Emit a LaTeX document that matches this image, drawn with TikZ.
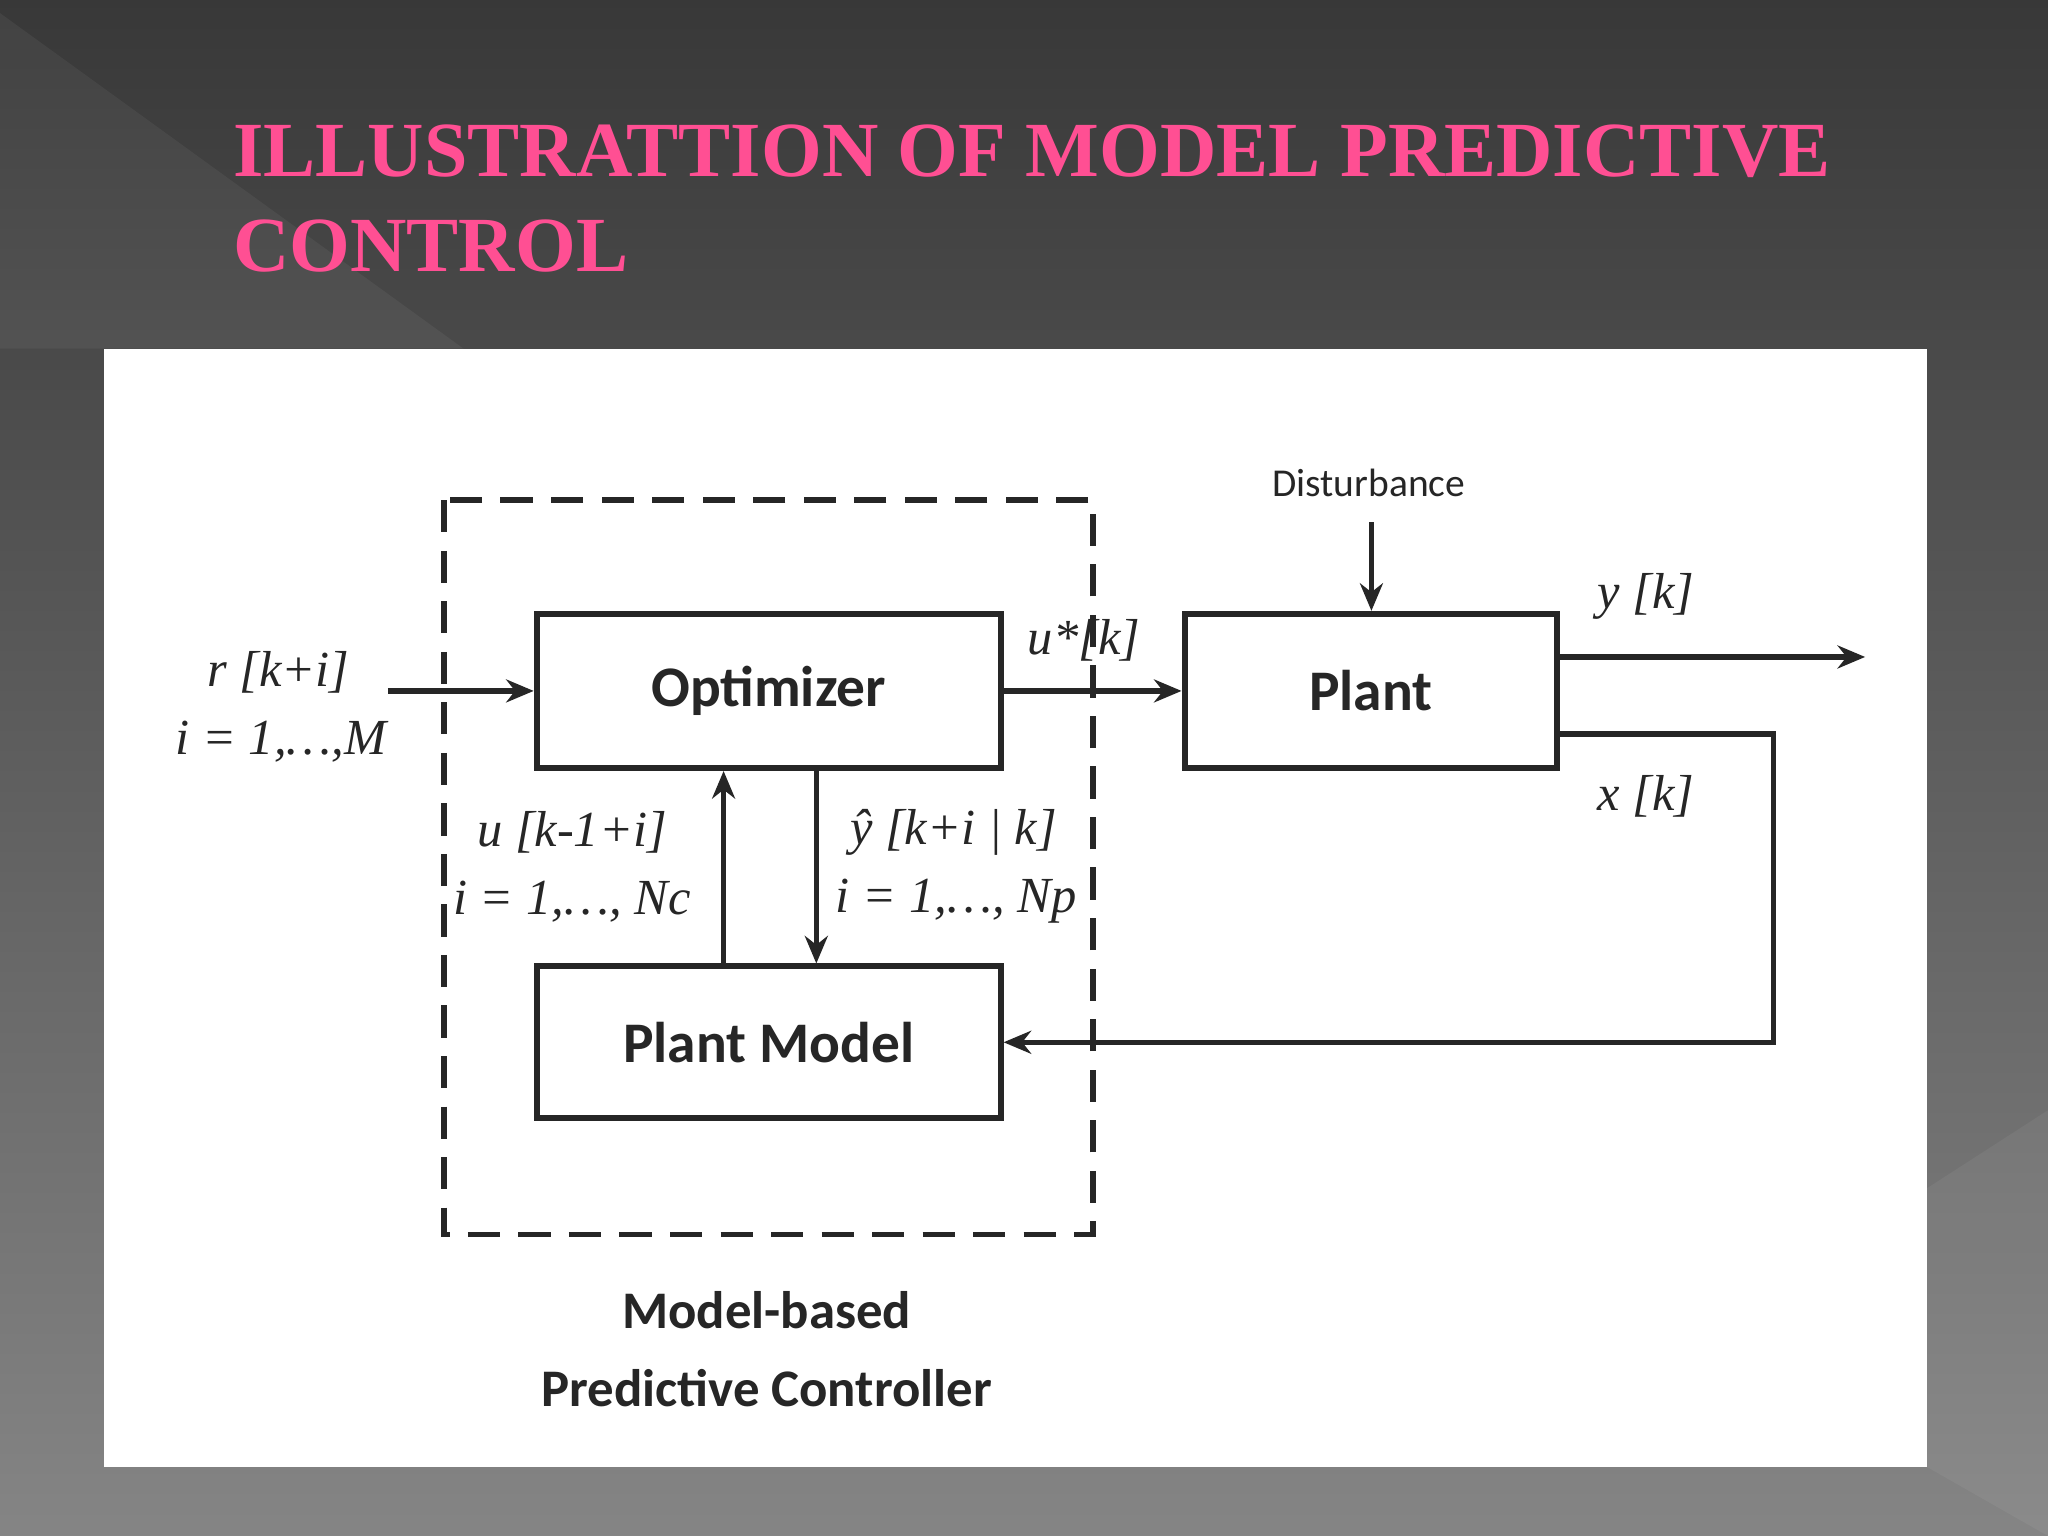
\documentclass[tikz,border=0pt]{standalone}
\usepackage{fontspec}
\setmainfont{Liberation Serif}
\newfontfamily\boxfont{Carlito}
\usetikzlibrary{arrows.meta}
\definecolor{titlepink}{HTML}{FF4F93}
\tikzset{
  blk/.style={draw=black!85,line width=1.3pt,minimum width=3.55cm,minimum height=1.18cm,font=\boxfont\bfseries\fontsize{12.5}{14}\selectfont,text=black!85},
  arr/.style={draw=black!85,line width=1.2pt,-{Stealth[length=6pt,width=5pt]}},
  lbl/.style={font=\itshape\fontsize{11}{13}\selectfont,text=black!85},
  captxt/.style={font=\boxfont\bfseries\fontsize{11.5}{14}\selectfont,text=black!85}
}
\begin{document}
\begin{tikzpicture}[x=0.01cm,y=-0.01cm]
\useasboundingbox (0,0) rectangle (1568,1176);
\shade[top color=black!78,bottom color=black!48] (0,0) rectangle (1568,1176);
\fill[white,opacity=0.05] (0,10) -- (355,267) -- (0,267) -- cycle;
\fill[white,opacity=0.05] (1568,850) -- (1475,910) -- (1475,1123) -- (1568,1176) -- cycle;
\node[anchor=base west,text=titlepink,font=\bfseries\fontsize{17}{20}\selectfont,inner sep=0] (t1) at (178,135) {ILLUSTRATTION OF MODEL PREDICTIVE};
\node[anchor=base west,text=titlepink,font=\bfseries\fontsize{17}{20}\selectfont,inner sep=0] (t2) at (178,208) {CONTROL};
\fill[white] (80,267) rectangle (1475,1123);
\draw[black!85,line width=1.2pt,dash pattern=on 7pt off 4pt] (340,383) rectangle (837,945);
\node[blk] (opt) at (588.5,529) {Optimizer};
\node[blk,minimum width=2.85cm] (plant) at (1049.5,529) {Plant};
\node[blk,minimum height=1.16cm] (pm) at (588.5,798) {Plant Model};
\coordinate (rin) at (297,529);
\draw[arr] (rin) -- (opt.west);
\draw[arr] (opt.east) -- (plant.west);
\node[font=\boxfont\fontsize{8.6}{10}\selectfont,text=black!85] (dist) at (1048,370) {Disturbance};
\coordinate (dtop) at (1050,400);
\draw[arr] (dtop) -- (dtop |- plant.north);
\coordinate (yout) at (1428,503);
\draw[arr] (plant.east |- yout) -- (yout);
\coordinate (xk0) at (1358,562);
\draw[arr] (plant.east |- xk0) -- (xk0) -- (xk0 |- pm.east) -- (pm.east);
\coordinate (ua) at (554,740);
\coordinate (ya) at (625,588);
\draw[arr] (ua) -- (ua |- opt.south);
\draw[arr] (ya) -- (ya |- pm.north);
\node[lbl] (r1) at (213,515) {r [k+i]};
\node[lbl] (r2) at (215,568) {i = 1,…,M};
\node[lbl] (us) at (830,490) {u*[k]};
\node[lbl] (yk) at (1260,457) {y [k]};
\node[lbl] (xk) at (1260,610) {x [k]};
\node[lbl] (u1) at (438,637) {u [k-1+i]};
\node[lbl] (u2) at (438,690) {i = 1,…, Nc};
\node[lbl] (y1) at (730,637) {ŷ [k+i | k]};
\node[lbl] (y2) at (732,690) {i = 1,…, Np};
\node[captxt] (c1) at (587,1003) {Model-based};
\node[captxt] (c2) at (587,1063) {Predictive Controller};
\end{tikzpicture}
\end{document}
